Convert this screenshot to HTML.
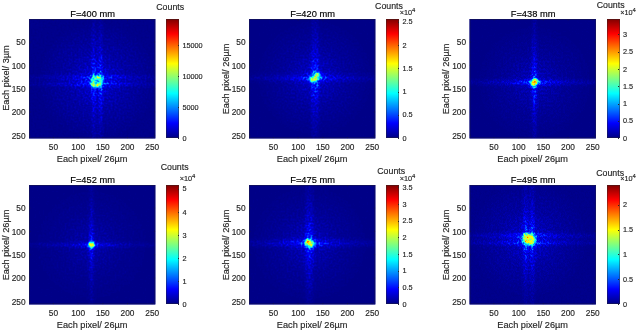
<!DOCTYPE html>
<html><head><meta charset="utf-8"><title>Focal spot images</title>
<style>
html,body{margin:0;padding:0;background:#fff;}
body{width:637px;height:331px;position:relative;overflow:hidden;font-family:"Liberation Sans",sans-serif;color:#262626;}
.t{position:absolute;white-space:nowrap;line-height:1;-webkit-text-stroke:0.15px currentColor;}
.tk{font-size:8.3px;}
.ck{font-size:7.3px;}
.lb{font-size:9.2px;}
.cn{font-size:8.8px;}
.ti{font-size:9.3px;color:#000;}
.hm{position:absolute;display:block;}
.cb{position:absolute;background:linear-gradient(to top,#000084 0%,#0000ff 12.5%,#00ffff 37.5%,#ffff00 62.5%,#ff0000 87.5%,#800000 100%);box-sizing:border-box;border:1px solid rgba(38,38,38,0.42);background-origin:border-box;background-repeat:no-repeat;}
.yl{transform:translate(-50%,-50%) rotate(-90deg) scaleY(1.07);}
.cx{transform:translateX(-50%);}
.sx{transform:translateX(-50%) scaleY(1.07);transform-origin:50% 80%;}
.cy{transform:translateY(-50%);}
.rcy{transform:translate(-100%,-50%);}
.tm{position:absolute;background:#262626;}
sup{font-size:5.9px;line-height:0;vertical-align:baseline;position:relative;top:-3.0px;}
</style></head><body>
<svg class="hm" style="left:29px;top:19px" width="130" height="122" viewBox="0 0 130 122"><defs><filter id="f0" x="-6" y="-6" width="138.4" height="131.4" filterUnits="userSpaceOnUse" color-interpolation-filters="sRGB"><feGaussianBlur in="SourceGraphic" stdDeviation="0.8" result="e"/><feColorMatrix in="e" type="matrix" values="1 0 0 0 0 1 0 0 0 0 1 0 0 0 0 0 0 0 0 1" result="eb"/><feColorMatrix in="e" type="matrix" values="0 1 0 0 0 0 1 0 0 0 0 1 0 0 0 0 0 0 0 1" result="ec"/><feTurbulence type="fractalNoise" baseFrequency="0.5" numOctaves="2" seed="3" result="t"/><feColorMatrix in="t" type="matrix" values="1 0 0 0 0 1 0 0 0 0 1 0 0 0 0 0 0 0 0 1" result="n"/><feComponentTransfer in="n" result="n2"><feFuncR type="table" tableValues="0 0 0.02 0.12 0.33 0.62 0.9 1 1"/><feFuncG type="table" tableValues="0 0 0.02 0.12 0.33 0.62 0.9 1 1"/><feFuncB type="table" tableValues="0 0 0.02 0.12 0.33 0.62 0.9 1 1"/></feComponentTransfer><feComposite in="eb" in2="n2" operator="arithmetic" k1="1.3" k2="0.53" k3="0" k4="0" result="m1"/><feComposite in="ec" in2="n2" operator="arithmetic" k1="0.3" k2="0.9" k3="0" k4="0" result="m2"/><feComposite in="m1" in2="m2" operator="arithmetic" k1="0" k2="1" k3="1" k4="0" result="m"/><feComponentTransfer in="m"><feFuncR type="table" tableValues="0 0 0 0 0.5 1 1 1 0.5"/><feFuncG type="table" tableValues="0 0 0.5 1 1 1 0.5 0 0"/><feFuncB type="table" tableValues="0.515 1 1 1 0.5 0 0 0 0"/></feComponentTransfer></filter><linearGradient id="v0" gradientUnits="userSpaceOnUse" x1="0" x2="0" y1="-23.30" y2="146.70"><stop offset="0.000" stop-color="#f00" stop-opacity="0.0119"/><stop offset="0.225" stop-color="#f00" stop-opacity="0.0306"/><stop offset="0.350" stop-color="#f00" stop-opacity="0.0612"/><stop offset="0.425" stop-color="#f00" stop-opacity="0.1020"/><stop offset="0.470" stop-color="#f00" stop-opacity="0.1615"/><stop offset="0.500" stop-color="#f00" stop-opacity="0.1700"/><stop offset="0.530" stop-color="#f00" stop-opacity="0.1615"/><stop offset="0.575" stop-color="#f00" stop-opacity="0.1020"/><stop offset="0.650" stop-color="#f00" stop-opacity="0.0612"/><stop offset="0.775" stop-color="#f00" stop-opacity="0.0306"/><stop offset="1.000" stop-color="#f00" stop-opacity="0.0119"/></linearGradient><linearGradient id="h0" gradientUnits="userSpaceOnUse" y1="0" y2="0" x1="-16.90" x2="153.10"><stop offset="0.000" stop-color="#f00" stop-opacity="0.0063"/><stop offset="0.225" stop-color="#f00" stop-opacity="0.0162"/><stop offset="0.350" stop-color="#f00" stop-opacity="0.0324"/><stop offset="0.425" stop-color="#f00" stop-opacity="0.0540"/><stop offset="0.470" stop-color="#f00" stop-opacity="0.0855"/><stop offset="0.500" stop-color="#f00" stop-opacity="0.0900"/><stop offset="0.530" stop-color="#f00" stop-opacity="0.0855"/><stop offset="0.575" stop-color="#f00" stop-opacity="0.0540"/><stop offset="0.650" stop-color="#f00" stop-opacity="0.0324"/><stop offset="0.775" stop-color="#f00" stop-opacity="0.0162"/><stop offset="1.000" stop-color="#f00" stop-opacity="0.0063"/></linearGradient><linearGradient id="vw0" gradientUnits="userSpaceOnUse" x1="0" x2="0" y1="-23.30" y2="146.70"><stop offset="0.000" stop-color="#f00" stop-opacity="0.0032"/><stop offset="0.225" stop-color="#f00" stop-opacity="0.0081"/><stop offset="0.350" stop-color="#f00" stop-opacity="0.0162"/><stop offset="0.425" stop-color="#f00" stop-opacity="0.0270"/><stop offset="0.470" stop-color="#f00" stop-opacity="0.0427"/><stop offset="0.500" stop-color="#f00" stop-opacity="0.0450"/><stop offset="0.530" stop-color="#f00" stop-opacity="0.0427"/><stop offset="0.575" stop-color="#f00" stop-opacity="0.0270"/><stop offset="0.650" stop-color="#f00" stop-opacity="0.0162"/><stop offset="0.775" stop-color="#f00" stop-opacity="0.0081"/><stop offset="1.000" stop-color="#f00" stop-opacity="0.0032"/></linearGradient><linearGradient id="hw0" gradientUnits="userSpaceOnUse" y1="0" y2="0" x1="-16.90" x2="153.10"><stop offset="0.000" stop-color="#f00" stop-opacity="0.0042"/><stop offset="0.225" stop-color="#f00" stop-opacity="0.0108"/><stop offset="0.350" stop-color="#f00" stop-opacity="0.0216"/><stop offset="0.425" stop-color="#f00" stop-opacity="0.0360"/><stop offset="0.470" stop-color="#f00" stop-opacity="0.0570"/><stop offset="0.500" stop-color="#f00" stop-opacity="0.0600"/><stop offset="0.530" stop-color="#f00" stop-opacity="0.0570"/><stop offset="0.575" stop-color="#f00" stop-opacity="0.0360"/><stop offset="0.650" stop-color="#f00" stop-opacity="0.0216"/><stop offset="0.775" stop-color="#f00" stop-opacity="0.0108"/><stop offset="1.000" stop-color="#f00" stop-opacity="0.0042"/></linearGradient><radialGradient id="o0" cx="68.10" cy="61.70" r="60" gradientUnits="userSpaceOnUse"><stop offset="0" stop-color="#f00" stop-opacity="0.085"/><stop offset="0.2" stop-color="#f00" stop-opacity="0.059"/><stop offset="0.5" stop-color="#f00" stop-opacity="0.026"/><stop offset="1" stop-color="#f00" stop-opacity="0"/></radialGradient><clipPath id="c0"><rect x="0" y="0" width="126.4" height="119.4"/></clipPath></defs><g transform="translate(0.00 0.00)"><g clip-path="url(#c0)"><rect width="126.4" height="119.4" fill="#00008a"/><g filter="url(#f0)"><rect x="-8" y="-8" width="142.4" height="135.4" fill="rgb(2,0,0)"/><rect x="-8" y="-8" width="142.4" height="135.4" fill="url(#o0)"/><rect x="62.10" y="-8" width="12" height="135.4" fill="url(#vw0)"/><rect y="55.70" x="-8" height="12" width="142.4" fill="url(#hw0)"/><rect x="63.60" y="-8" width="2.0" height="135.4" fill="url(#v0)"/><rect x="70.60" y="-8" width="2.0" height="135.4" fill="url(#v0)"/><rect y="57.40" x="-8" height="2.0" width="142.4" fill="url(#h0)"/><rect y="64.00" x="-8" height="2.0" width="142.4" fill="url(#h0)"/><circle cx="67.70" cy="62.60" r="6.4" fill="#0f0" fill-opacity="0.090"/><circle cx="67.70" cy="62.60" r="4.1" fill="none" stroke="#0f0" stroke-opacity="0.22" stroke-width="2.8"/><path d="M-1.0 -4.3 C1.5 -5.2 4.6 -4.2 5.6 -2.0" transform="translate(67.70 62.60)" fill="none" stroke="#0f0" stroke-opacity="0.220" stroke-width="2.1" stroke-linecap="round"/><path d="M-5.0 2.4 C-3.6 4.6 0.4 5.0 2.6 2.6" transform="translate(67.70 62.60)" fill="none" stroke="#0f0" stroke-opacity="0.250" stroke-width="2.8" stroke-linecap="round"/><path d="M0.6 -4.4 L2.6 -4.0" transform="translate(67.70 62.60)" fill="none" stroke="#0f0" stroke-opacity="0.160" stroke-width="1.5" stroke-linecap="round"/><path d="M-4.2 3.0 L-1.4 4.2" transform="translate(67.70 62.60)" fill="none" stroke="#0f0" stroke-opacity="0.120" stroke-width="1.8" stroke-linecap="round"/><circle cx="69.60" cy="65.50" r="1.1" fill="#0f0" fill-opacity="0.160"/></g><rect x="0.5" y="0.5" width="125.4" height="118.4" fill="none" stroke="#262626" stroke-opacity="0.38" stroke-width="1"/><path d="M24.44 0v1.6M24.44 119.4v-1.6M0 23.09h1.6M126.4 23.09h-1.6M49.13 0v1.6M49.13 119.4v-1.6M0 46.41h1.6M126.4 46.41h-1.6M73.82 0v1.6M73.82 119.4v-1.6M0 69.73h1.6M126.4 69.73h-1.6M98.50 0v1.6M98.50 119.4v-1.6M0 93.05h1.6M126.4 93.05h-1.6M123.19 0v1.6M123.19 119.4v-1.6M0 116.37h1.6M126.4 116.37h-1.6" stroke="#262626" stroke-opacity="0.55" stroke-width="0.6" fill="none"/></g></g></svg>
<div class="t ti sx" style="left:92.6px;top:9.8px">F=400 mm</div>
<div class="t lb sx" style="left:92.2px;top:155.0px">Each pixel/ 26µm</div>
<div class="t lb yl" style="left:5.8px;top:78.0px">Each pixel/ 3µm</div>
<div class="t tk cx" style="left:53.4px;top:143.0px">50</div><div class="t tk rcy" style="left:25.6px;top:42.4px">50</div><div class="t tk cx" style="left:78.1px;top:143.0px">100</div><div class="t tk rcy" style="left:25.6px;top:65.7px">100</div><div class="t tk cx" style="left:102.8px;top:143.0px">150</div><div class="t tk rcy" style="left:25.6px;top:89.0px">150</div><div class="t tk cx" style="left:127.5px;top:143.0px">200</div><div class="t tk rcy" style="left:25.6px;top:112.3px">200</div><div class="t tk cx" style="left:152.2px;top:143.0px">250</div><div class="t tk rcy" style="left:25.6px;top:135.7px">250</div>
<div class="cb" style="left:166.2px;top:19.0px;width:12.9px;height:119.4px"></div>
<div class="tm" style="left:177.5px;top:138.15px;width:1.2px;height:0.6px"></div><div class="t ck cy" style="left:182.4px;top:138.7px">0</div><div class="tm" style="left:177.5px;top:107.08px;width:1.2px;height:0.6px"></div><div class="t ck cy" style="left:182.4px;top:107.6px">5000</div><div class="tm" style="left:177.5px;top:76.01px;width:1.2px;height:0.6px"></div><div class="t ck cy" style="left:182.4px;top:76.6px">10000</div><div class="tm" style="left:177.5px;top:44.94px;width:1.2px;height:0.6px"></div><div class="t ck cy" style="left:182.4px;top:45.5px">15000</div>
<div class="t cn sx" style="left:170.2px;top:2.8px">Counts</div>
<svg class="hm" style="left:249px;top:19px" width="130" height="122" viewBox="0 0 130 122"><defs><filter id="f1" x="-6" y="-6" width="138.4" height="131.4" filterUnits="userSpaceOnUse" color-interpolation-filters="sRGB"><feGaussianBlur in="SourceGraphic" stdDeviation="0.8" result="e"/><feColorMatrix in="e" type="matrix" values="1 0 0 0 0 1 0 0 0 0 1 0 0 0 0 0 0 0 0 1" result="eb"/><feColorMatrix in="e" type="matrix" values="0 1 0 0 0 0 1 0 0 0 0 1 0 0 0 0 0 0 0 1" result="ec"/><feTurbulence type="fractalNoise" baseFrequency="0.5" numOctaves="2" seed="7" result="t"/><feColorMatrix in="t" type="matrix" values="1 0 0 0 0 1 0 0 0 0 1 0 0 0 0 0 0 0 0 1" result="n"/><feComponentTransfer in="n" result="n2"><feFuncR type="table" tableValues="0 0 0.02 0.12 0.33 0.62 0.9 1 1"/><feFuncG type="table" tableValues="0 0 0.02 0.12 0.33 0.62 0.9 1 1"/><feFuncB type="table" tableValues="0 0 0.02 0.12 0.33 0.62 0.9 1 1"/></feComponentTransfer><feComposite in="eb" in2="n2" operator="arithmetic" k1="1.3" k2="0.53" k3="0" k4="0" result="m1"/><feComposite in="ec" in2="n2" operator="arithmetic" k1="0.3" k2="0.9" k3="0" k4="0" result="m2"/><feComposite in="m1" in2="m2" operator="arithmetic" k1="0" k2="1" k3="1" k4="0" result="m"/><feComponentTransfer in="m"><feFuncR type="table" tableValues="0 0 0 0 0.5 1 1 1 0.5"/><feFuncG type="table" tableValues="0 0 0.5 1 1 1 0.5 0 0"/><feFuncB type="table" tableValues="0.515 1 1 1 0.5 0 0 0 0"/></feComponentTransfer></filter><linearGradient id="v1" gradientUnits="userSpaceOnUse" x1="0" x2="0" y1="-26.30" y2="143.70"><stop offset="0.000" stop-color="#f00" stop-opacity="0.0091"/><stop offset="0.225" stop-color="#f00" stop-opacity="0.0234"/><stop offset="0.350" stop-color="#f00" stop-opacity="0.0468"/><stop offset="0.425" stop-color="#f00" stop-opacity="0.0780"/><stop offset="0.470" stop-color="#f00" stop-opacity="0.1235"/><stop offset="0.500" stop-color="#f00" stop-opacity="0.1300"/><stop offset="0.530" stop-color="#f00" stop-opacity="0.1235"/><stop offset="0.575" stop-color="#f00" stop-opacity="0.0780"/><stop offset="0.650" stop-color="#f00" stop-opacity="0.0468"/><stop offset="0.775" stop-color="#f00" stop-opacity="0.0234"/><stop offset="1.000" stop-color="#f00" stop-opacity="0.0091"/></linearGradient><linearGradient id="h1" gradientUnits="userSpaceOnUse" y1="0" y2="0" x1="-19.10" x2="150.90"><stop offset="0.000" stop-color="#f00" stop-opacity="0.0091"/><stop offset="0.225" stop-color="#f00" stop-opacity="0.0234"/><stop offset="0.350" stop-color="#f00" stop-opacity="0.0468"/><stop offset="0.425" stop-color="#f00" stop-opacity="0.0780"/><stop offset="0.470" stop-color="#f00" stop-opacity="0.1235"/><stop offset="0.500" stop-color="#f00" stop-opacity="0.1300"/><stop offset="0.530" stop-color="#f00" stop-opacity="0.1235"/><stop offset="0.575" stop-color="#f00" stop-opacity="0.0780"/><stop offset="0.650" stop-color="#f00" stop-opacity="0.0468"/><stop offset="0.775" stop-color="#f00" stop-opacity="0.0234"/><stop offset="1.000" stop-color="#f00" stop-opacity="0.0091"/></linearGradient><linearGradient id="vw1" gradientUnits="userSpaceOnUse" x1="0" x2="0" y1="-26.30" y2="143.70"><stop offset="0.000" stop-color="#f00" stop-opacity="0.0028"/><stop offset="0.225" stop-color="#f00" stop-opacity="0.0072"/><stop offset="0.350" stop-color="#f00" stop-opacity="0.0144"/><stop offset="0.425" stop-color="#f00" stop-opacity="0.0240"/><stop offset="0.470" stop-color="#f00" stop-opacity="0.0380"/><stop offset="0.500" stop-color="#f00" stop-opacity="0.0400"/><stop offset="0.530" stop-color="#f00" stop-opacity="0.0380"/><stop offset="0.575" stop-color="#f00" stop-opacity="0.0240"/><stop offset="0.650" stop-color="#f00" stop-opacity="0.0144"/><stop offset="0.775" stop-color="#f00" stop-opacity="0.0072"/><stop offset="1.000" stop-color="#f00" stop-opacity="0.0028"/></linearGradient><linearGradient id="hw1" gradientUnits="userSpaceOnUse" y1="0" y2="0" x1="-19.10" x2="150.90"><stop offset="0.000" stop-color="#f00" stop-opacity="0.0032"/><stop offset="0.225" stop-color="#f00" stop-opacity="0.0081"/><stop offset="0.350" stop-color="#f00" stop-opacity="0.0162"/><stop offset="0.425" stop-color="#f00" stop-opacity="0.0270"/><stop offset="0.470" stop-color="#f00" stop-opacity="0.0427"/><stop offset="0.500" stop-color="#f00" stop-opacity="0.0450"/><stop offset="0.530" stop-color="#f00" stop-opacity="0.0427"/><stop offset="0.575" stop-color="#f00" stop-opacity="0.0270"/><stop offset="0.650" stop-color="#f00" stop-opacity="0.0162"/><stop offset="0.775" stop-color="#f00" stop-opacity="0.0081"/><stop offset="1.000" stop-color="#f00" stop-opacity="0.0032"/></linearGradient><radialGradient id="o1" cx="65.90" cy="58.70" r="60" gradientUnits="userSpaceOnUse"><stop offset="0" stop-color="#f00" stop-opacity="0.070"/><stop offset="0.2" stop-color="#f00" stop-opacity="0.049"/><stop offset="0.5" stop-color="#f00" stop-opacity="0.021"/><stop offset="1" stop-color="#f00" stop-opacity="0"/></radialGradient><clipPath id="c1"><rect x="0" y="0" width="126.4" height="119.4"/></clipPath></defs><g transform="translate(0.00 0.00)"><g clip-path="url(#c1)"><rect width="126.4" height="119.4" fill="#00008a"/><g filter="url(#f1)"><rect x="-8" y="-8" width="142.4" height="135.4" fill="rgb(1,0,0)"/><rect x="-8" y="-8" width="142.4" height="135.4" fill="url(#o1)"/><rect x="60.90" y="-8" width="10" height="135.4" fill="url(#vw1)"/><rect y="53.70" x="-8" height="10" width="142.4" fill="url(#hw1)"/><rect x="63.10" y="-8" width="2.4" height="135.4" fill="url(#v1)"/><rect x="66.50" y="-8" width="2.4" height="135.4" fill="url(#v1)"/><rect y="58.00" x="-8" height="2.4" width="142.4" fill="url(#h1)"/><ellipse cx="0" cy="0" rx="5.8" ry="3.9" transform="translate(65.90 58.70) rotate(-35)" fill="#0f0" fill-opacity="0.190"/><path d="M-4.6 2.0 C-2.6 3.4 -0.2 3.0 1.0 1.0 C1.8 -0.6 1.8 -2.6 2.8 -3.8" transform="translate(65.90 58.70)" fill="none" stroke="#0f0" stroke-opacity="0.340" stroke-width="2.6" stroke-linecap="round"/><path d="M2.8 -3.8 C4.6 -4.0 5.8 -2.6 6.2 -1.0" transform="translate(65.90 58.70)" fill="none" stroke="#0f0" stroke-opacity="0.170" stroke-width="2.0" stroke-linecap="round"/><path d="M-1.6 2.6 L1.2 0.6 L2.2 -2.6" transform="translate(65.90 58.70)" fill="none" stroke="#0f0" stroke-opacity="0.160" stroke-width="1.5" stroke-linecap="round"/></g><rect x="0.5" y="0.5" width="125.4" height="118.4" fill="none" stroke="#262626" stroke-opacity="0.38" stroke-width="1"/><path d="M24.44 0v1.6M24.44 119.4v-1.6M0 23.09h1.6M126.4 23.09h-1.6M49.13 0v1.6M49.13 119.4v-1.6M0 46.41h1.6M126.4 46.41h-1.6M73.82 0v1.6M73.82 119.4v-1.6M0 69.73h1.6M126.4 69.73h-1.6M98.50 0v1.6M98.50 119.4v-1.6M0 93.05h1.6M126.4 93.05h-1.6M123.19 0v1.6M123.19 119.4v-1.6M0 116.37h1.6M126.4 116.37h-1.6" stroke="#262626" stroke-opacity="0.55" stroke-width="0.6" fill="none"/></g></g></svg>
<div class="t ti sx" style="left:312.6px;top:9.8px">F=420 mm</div>
<div class="t lb sx" style="left:312.2px;top:155.0px">Each pixel/ 26µm</div>
<div class="t lb yl" style="left:225.8px;top:78.9px">Each pixel/ 26µm</div>
<div class="t tk cx" style="left:273.4px;top:143.0px">50</div><div class="t tk rcy" style="left:245.6px;top:42.4px">50</div><div class="t tk cx" style="left:298.1px;top:143.0px">100</div><div class="t tk rcy" style="left:245.6px;top:65.7px">100</div><div class="t tk cx" style="left:322.8px;top:143.0px">150</div><div class="t tk rcy" style="left:245.6px;top:89.0px">150</div><div class="t tk cx" style="left:347.5px;top:143.0px">200</div><div class="t tk rcy" style="left:245.6px;top:112.3px">200</div><div class="t tk cx" style="left:372.2px;top:143.0px">250</div><div class="t tk rcy" style="left:245.6px;top:135.7px">250</div>
<div class="cb" style="left:386.2px;top:19.0px;width:12.9px;height:119.4px"></div>
<div class="tm" style="left:397.5px;top:138.15px;width:1.2px;height:0.6px"></div><div class="t ck cy" style="left:402.4px;top:138.7px">0</div><div class="tm" style="left:397.5px;top:114.85px;width:1.2px;height:0.6px"></div><div class="t ck cy" style="left:402.4px;top:115.4px">0.5</div><div class="tm" style="left:397.5px;top:91.55px;width:1.2px;height:0.6px"></div><div class="t ck cy" style="left:402.4px;top:92.1px">1</div><div class="tm" style="left:397.5px;top:68.24px;width:1.2px;height:0.6px"></div><div class="t ck cy" style="left:402.4px;top:68.8px">1.5</div><div class="tm" style="left:397.5px;top:44.94px;width:1.2px;height:0.6px"></div><div class="t ck cy" style="left:402.4px;top:45.5px">2</div><div class="tm" style="left:397.5px;top:21.64px;width:1.2px;height:0.6px"></div><div class="t ck cy" style="left:402.4px;top:22.2px">2.5</div>
<div class="t cn sx" style="left:389.0px;top:1.6px">Counts</div>
<div class="t ck" style="left:399.7px;top:8.7px;color:#262626">×10<sup>4</sup></div>
<svg class="hm" style="left:469px;top:19px" width="130" height="122" viewBox="0 0 130 122"><defs><filter id="f2" x="-6" y="-6" width="138.4" height="131.4" filterUnits="userSpaceOnUse" color-interpolation-filters="sRGB"><feGaussianBlur in="SourceGraphic" stdDeviation="0.8" result="e"/><feColorMatrix in="e" type="matrix" values="1 0 0 0 0 1 0 0 0 0 1 0 0 0 0 0 0 0 0 1" result="eb"/><feColorMatrix in="e" type="matrix" values="0 1 0 0 0 0 1 0 0 0 0 1 0 0 0 0 0 0 0 1" result="ec"/><feTurbulence type="fractalNoise" baseFrequency="0.5" numOctaves="2" seed="11" result="t"/><feColorMatrix in="t" type="matrix" values="1 0 0 0 0 1 0 0 0 0 1 0 0 0 0 0 0 0 0 1" result="n"/><feComponentTransfer in="n" result="n2"><feFuncR type="table" tableValues="0 0 0.02 0.12 0.33 0.62 0.9 1 1"/><feFuncG type="table" tableValues="0 0 0.02 0.12 0.33 0.62 0.9 1 1"/><feFuncB type="table" tableValues="0 0 0.02 0.12 0.33 0.62 0.9 1 1"/></feComponentTransfer><feComposite in="eb" in2="n2" operator="arithmetic" k1="1.3" k2="0.53" k3="0" k4="0" result="m1"/><feComposite in="ec" in2="n2" operator="arithmetic" k1="0.3" k2="0.9" k3="0" k4="0" result="m2"/><feComposite in="m1" in2="m2" operator="arithmetic" k1="0" k2="1" k3="1" k4="0" result="m"/><feComponentTransfer in="m"><feFuncR type="table" tableValues="0 0 0 0 0.5 1 1 1 0.5"/><feFuncG type="table" tableValues="0 0 0.5 1 1 1 0.5 0 0"/><feFuncB type="table" tableValues="0.515 1 1 1 0.5 0 0 0 0"/></feComponentTransfer></filter><linearGradient id="v2" gradientUnits="userSpaceOnUse" x1="0" x2="0" y1="-21.60" y2="148.40"><stop offset="0.000" stop-color="#f00" stop-opacity="0.0105"/><stop offset="0.225" stop-color="#f00" stop-opacity="0.0270"/><stop offset="0.350" stop-color="#f00" stop-opacity="0.0540"/><stop offset="0.425" stop-color="#f00" stop-opacity="0.0900"/><stop offset="0.470" stop-color="#f00" stop-opacity="0.1425"/><stop offset="0.500" stop-color="#f00" stop-opacity="0.1500"/><stop offset="0.530" stop-color="#f00" stop-opacity="0.1425"/><stop offset="0.575" stop-color="#f00" stop-opacity="0.0900"/><stop offset="0.650" stop-color="#f00" stop-opacity="0.0540"/><stop offset="0.775" stop-color="#f00" stop-opacity="0.0270"/><stop offset="1.000" stop-color="#f00" stop-opacity="0.0105"/></linearGradient><linearGradient id="h2" gradientUnits="userSpaceOnUse" y1="0" y2="0" x1="-20.10" x2="149.90"><stop offset="0.000" stop-color="#f00" stop-opacity="0.0091"/><stop offset="0.225" stop-color="#f00" stop-opacity="0.0234"/><stop offset="0.350" stop-color="#f00" stop-opacity="0.0468"/><stop offset="0.425" stop-color="#f00" stop-opacity="0.0780"/><stop offset="0.470" stop-color="#f00" stop-opacity="0.1235"/><stop offset="0.500" stop-color="#f00" stop-opacity="0.1300"/><stop offset="0.530" stop-color="#f00" stop-opacity="0.1235"/><stop offset="0.575" stop-color="#f00" stop-opacity="0.0780"/><stop offset="0.650" stop-color="#f00" stop-opacity="0.0468"/><stop offset="0.775" stop-color="#f00" stop-opacity="0.0234"/><stop offset="1.000" stop-color="#f00" stop-opacity="0.0091"/></linearGradient><linearGradient id="vw2" gradientUnits="userSpaceOnUse" x1="0" x2="0" y1="-21.60" y2="148.40"><stop offset="0.000" stop-color="#f00" stop-opacity="0.0021"/><stop offset="0.225" stop-color="#f00" stop-opacity="0.0054"/><stop offset="0.350" stop-color="#f00" stop-opacity="0.0108"/><stop offset="0.425" stop-color="#f00" stop-opacity="0.0180"/><stop offset="0.470" stop-color="#f00" stop-opacity="0.0285"/><stop offset="0.500" stop-color="#f00" stop-opacity="0.0300"/><stop offset="0.530" stop-color="#f00" stop-opacity="0.0285"/><stop offset="0.575" stop-color="#f00" stop-opacity="0.0180"/><stop offset="0.650" stop-color="#f00" stop-opacity="0.0108"/><stop offset="0.775" stop-color="#f00" stop-opacity="0.0054"/><stop offset="1.000" stop-color="#f00" stop-opacity="0.0021"/></linearGradient><linearGradient id="hw2" gradientUnits="userSpaceOnUse" y1="0" y2="0" x1="-20.10" x2="149.90"><stop offset="0.000" stop-color="#f00" stop-opacity="0.0025"/><stop offset="0.225" stop-color="#f00" stop-opacity="0.0063"/><stop offset="0.350" stop-color="#f00" stop-opacity="0.0126"/><stop offset="0.425" stop-color="#f00" stop-opacity="0.0210"/><stop offset="0.470" stop-color="#f00" stop-opacity="0.0333"/><stop offset="0.500" stop-color="#f00" stop-opacity="0.0350"/><stop offset="0.530" stop-color="#f00" stop-opacity="0.0333"/><stop offset="0.575" stop-color="#f00" stop-opacity="0.0210"/><stop offset="0.650" stop-color="#f00" stop-opacity="0.0126"/><stop offset="0.775" stop-color="#f00" stop-opacity="0.0063"/><stop offset="1.000" stop-color="#f00" stop-opacity="0.0025"/></linearGradient><radialGradient id="o2" cx="64.90" cy="63.40" r="60" gradientUnits="userSpaceOnUse"><stop offset="0" stop-color="#f00" stop-opacity="0.055"/><stop offset="0.2" stop-color="#f00" stop-opacity="0.038"/><stop offset="0.5" stop-color="#f00" stop-opacity="0.017"/><stop offset="1" stop-color="#f00" stop-opacity="0"/></radialGradient><clipPath id="c2"><rect x="0" y="0" width="126.4" height="119.4"/></clipPath></defs><g transform="translate(0.50 0.00)"><g clip-path="url(#c2)"><rect width="126.4" height="119.4" fill="#00008a"/><g filter="url(#f2)"><rect x="-8" y="-8" width="142.4" height="135.4" fill="rgb(1,0,0)"/><rect x="-8" y="-8" width="142.4" height="135.4" fill="url(#o2)"/><rect x="60.90" y="-8" width="8" height="135.4" fill="url(#vw2)"/><rect y="59.40" x="-8" height="8" width="142.4" fill="url(#hw2)"/><rect x="63.20" y="-8" width="3.4" height="135.4" fill="url(#v2)"/><rect y="61.70" x="-8" height="3.4" width="142.4" fill="url(#h2)"/><ellipse cx="0" cy="0" rx="4.4" ry="3.6" transform="translate(64.90 63.40) rotate(-40)" fill="#0f0" fill-opacity="0.300"/><ellipse cx="0" cy="0" rx="3.2" ry="2.2" transform="translate(64.90 63.40) rotate(-40)" fill="#0f0" fill-opacity="0.300"/><circle cx="63.40" cy="64.60" r="1.5" fill="#0f0" fill-opacity="0.550"/><circle cx="66.50" cy="61.80" r="1.3" fill="#0f0" fill-opacity="0.500"/></g><rect x="0.5" y="0.5" width="125.4" height="118.4" fill="none" stroke="#262626" stroke-opacity="0.38" stroke-width="1"/><path d="M24.44 0v1.6M24.44 119.4v-1.6M0 23.09h1.6M126.4 23.09h-1.6M49.13 0v1.6M49.13 119.4v-1.6M0 46.41h1.6M126.4 46.41h-1.6M73.82 0v1.6M73.82 119.4v-1.6M0 69.73h1.6M126.4 69.73h-1.6M98.50 0v1.6M98.50 119.4v-1.6M0 93.05h1.6M126.4 93.05h-1.6M123.19 0v1.6M123.19 119.4v-1.6M0 116.37h1.6M126.4 116.37h-1.6" stroke="#262626" stroke-opacity="0.55" stroke-width="0.6" fill="none"/></g></g></svg>
<div class="t ti sx" style="left:533.1px;top:9.8px">F=438 mm</div>
<div class="t lb sx" style="left:532.7px;top:155.0px">Each pixel/ 26µm</div>
<div class="t lb yl" style="left:446.3px;top:78.9px">Each pixel/ 26µm</div>
<div class="t tk cx" style="left:493.9px;top:143.0px">50</div><div class="t tk rcy" style="left:466.1px;top:42.4px">50</div><div class="t tk cx" style="left:518.6px;top:143.0px">100</div><div class="t tk rcy" style="left:466.1px;top:65.7px">100</div><div class="t tk cx" style="left:543.3px;top:143.0px">150</div><div class="t tk rcy" style="left:466.1px;top:89.0px">150</div><div class="t tk cx" style="left:568.0px;top:143.0px">200</div><div class="t tk rcy" style="left:466.1px;top:112.3px">200</div><div class="t tk cx" style="left:592.7px;top:143.0px">250</div><div class="t tk rcy" style="left:466.1px;top:135.7px">250</div>
<div class="cb" style="left:606.7px;top:19.0px;width:12.9px;height:119.4px"></div>
<div class="tm" style="left:618.0px;top:138.15px;width:1.2px;height:0.6px"></div><div class="t ck cy" style="left:622.9px;top:138.7px">0</div><div class="tm" style="left:618.0px;top:120.85px;width:1.2px;height:0.6px"></div><div class="t ck cy" style="left:622.9px;top:121.4px">0.5</div><div class="tm" style="left:618.0px;top:103.54px;width:1.2px;height:0.6px"></div><div class="t ck cy" style="left:622.9px;top:104.1px">1</div><div class="tm" style="left:618.0px;top:86.24px;width:1.2px;height:0.6px"></div><div class="t ck cy" style="left:622.9px;top:86.8px">1.5</div><div class="tm" style="left:618.0px;top:68.93px;width:1.2px;height:0.6px"></div><div class="t ck cy" style="left:622.9px;top:69.5px">2</div><div class="tm" style="left:618.0px;top:51.63px;width:1.2px;height:0.6px"></div><div class="t ck cy" style="left:622.9px;top:52.2px">2.5</div><div class="tm" style="left:618.0px;top:34.32px;width:1.2px;height:0.6px"></div><div class="t ck cy" style="left:622.9px;top:34.9px">3</div>
<div class="t cn sx" style="left:610.6px;top:0.6px">Counts</div>
<div class="t ck" style="left:620.2px;top:8.7px;color:#262626">×10<sup>4</sup></div>
<svg class="hm" style="left:29px;top:185px" width="130" height="122" viewBox="0 0 130 122"><defs><filter id="f3" x="-6" y="-6" width="138.4" height="131.4" filterUnits="userSpaceOnUse" color-interpolation-filters="sRGB"><feGaussianBlur in="SourceGraphic" stdDeviation="0.8" result="e"/><feColorMatrix in="e" type="matrix" values="1 0 0 0 0 1 0 0 0 0 1 0 0 0 0 0 0 0 0 1" result="eb"/><feColorMatrix in="e" type="matrix" values="0 1 0 0 0 0 1 0 0 0 0 1 0 0 0 0 0 0 0 1" result="ec"/><feTurbulence type="fractalNoise" baseFrequency="0.5" numOctaves="2" seed="13" result="t"/><feColorMatrix in="t" type="matrix" values="1 0 0 0 0 1 0 0 0 0 1 0 0 0 0 0 0 0 0 1" result="n"/><feComponentTransfer in="n" result="n2"><feFuncR type="table" tableValues="0 0 0.02 0.12 0.33 0.62 0.9 1 1"/><feFuncG type="table" tableValues="0 0 0.02 0.12 0.33 0.62 0.9 1 1"/><feFuncB type="table" tableValues="0 0 0.02 0.12 0.33 0.62 0.9 1 1"/></feComponentTransfer><feComposite in="eb" in2="n2" operator="arithmetic" k1="1.3" k2="0.53" k3="0" k4="0" result="m1"/><feComposite in="ec" in2="n2" operator="arithmetic" k1="0.3" k2="0.9" k3="0" k4="0" result="m2"/><feComposite in="m1" in2="m2" operator="arithmetic" k1="0" k2="1" k3="1" k4="0" result="m"/><feComponentTransfer in="m"><feFuncR type="table" tableValues="0 0 0 0 0.5 1 1 1 0.5"/><feFuncG type="table" tableValues="0 0 0.5 1 1 1 0.5 0 0"/><feFuncB type="table" tableValues="0.515 1 1 1 0.5 0 0 0 0"/></feComponentTransfer></filter><linearGradient id="v3" gradientUnits="userSpaceOnUse" x1="0" x2="0" y1="-25.20" y2="144.80"><stop offset="0.000" stop-color="#f00" stop-opacity="0.0105"/><stop offset="0.225" stop-color="#f00" stop-opacity="0.0270"/><stop offset="0.350" stop-color="#f00" stop-opacity="0.0540"/><stop offset="0.425" stop-color="#f00" stop-opacity="0.0900"/><stop offset="0.470" stop-color="#f00" stop-opacity="0.1425"/><stop offset="0.500" stop-color="#f00" stop-opacity="0.1500"/><stop offset="0.530" stop-color="#f00" stop-opacity="0.1425"/><stop offset="0.575" stop-color="#f00" stop-opacity="0.0900"/><stop offset="0.650" stop-color="#f00" stop-opacity="0.0540"/><stop offset="0.775" stop-color="#f00" stop-opacity="0.0270"/><stop offset="1.000" stop-color="#f00" stop-opacity="0.0105"/></linearGradient><linearGradient id="h3" gradientUnits="userSpaceOnUse" y1="0" y2="0" x1="-22.50" x2="147.50"><stop offset="0.000" stop-color="#f00" stop-opacity="0.0084"/><stop offset="0.225" stop-color="#f00" stop-opacity="0.0216"/><stop offset="0.350" stop-color="#f00" stop-opacity="0.0432"/><stop offset="0.425" stop-color="#f00" stop-opacity="0.0720"/><stop offset="0.470" stop-color="#f00" stop-opacity="0.1140"/><stop offset="0.500" stop-color="#f00" stop-opacity="0.1200"/><stop offset="0.530" stop-color="#f00" stop-opacity="0.1140"/><stop offset="0.575" stop-color="#f00" stop-opacity="0.0720"/><stop offset="0.650" stop-color="#f00" stop-opacity="0.0432"/><stop offset="0.775" stop-color="#f00" stop-opacity="0.0216"/><stop offset="1.000" stop-color="#f00" stop-opacity="0.0084"/></linearGradient><linearGradient id="vw3" gradientUnits="userSpaceOnUse" x1="0" x2="0" y1="-25.20" y2="144.80"><stop offset="0.000" stop-color="#f00" stop-opacity="0.0018"/><stop offset="0.225" stop-color="#f00" stop-opacity="0.0045"/><stop offset="0.350" stop-color="#f00" stop-opacity="0.0090"/><stop offset="0.425" stop-color="#f00" stop-opacity="0.0150"/><stop offset="0.470" stop-color="#f00" stop-opacity="0.0238"/><stop offset="0.500" stop-color="#f00" stop-opacity="0.0250"/><stop offset="0.530" stop-color="#f00" stop-opacity="0.0238"/><stop offset="0.575" stop-color="#f00" stop-opacity="0.0150"/><stop offset="0.650" stop-color="#f00" stop-opacity="0.0090"/><stop offset="0.775" stop-color="#f00" stop-opacity="0.0045"/><stop offset="1.000" stop-color="#f00" stop-opacity="0.0018"/></linearGradient><linearGradient id="hw3" gradientUnits="userSpaceOnUse" y1="0" y2="0" x1="-22.50" x2="147.50"><stop offset="0.000" stop-color="#f00" stop-opacity="0.0018"/><stop offset="0.225" stop-color="#f00" stop-opacity="0.0045"/><stop offset="0.350" stop-color="#f00" stop-opacity="0.0090"/><stop offset="0.425" stop-color="#f00" stop-opacity="0.0150"/><stop offset="0.470" stop-color="#f00" stop-opacity="0.0238"/><stop offset="0.500" stop-color="#f00" stop-opacity="0.0250"/><stop offset="0.530" stop-color="#f00" stop-opacity="0.0238"/><stop offset="0.575" stop-color="#f00" stop-opacity="0.0150"/><stop offset="0.650" stop-color="#f00" stop-opacity="0.0090"/><stop offset="0.775" stop-color="#f00" stop-opacity="0.0045"/><stop offset="1.000" stop-color="#f00" stop-opacity="0.0018"/></linearGradient><radialGradient id="o3" cx="62.50" cy="59.80" r="60" gradientUnits="userSpaceOnUse"><stop offset="0" stop-color="#f00" stop-opacity="0.040"/><stop offset="0.2" stop-color="#f00" stop-opacity="0.028"/><stop offset="0.5" stop-color="#f00" stop-opacity="0.012"/><stop offset="1" stop-color="#f00" stop-opacity="0"/></radialGradient><clipPath id="c3"><rect x="0" y="0" width="126.4" height="119.4"/></clipPath></defs><g transform="translate(0.00 0.00)"><g clip-path="url(#c3)"><rect width="126.4" height="119.4" fill="#00008a"/><g filter="url(#f3)"><rect x="-8" y="-8" width="142.4" height="135.4" fill="rgb(1,0,0)"/><rect x="-8" y="-8" width="142.4" height="135.4" fill="url(#o3)"/><rect x="59.00" y="-8" width="7" height="135.4" fill="url(#vw3)"/><rect y="56.30" x="-8" height="7" width="142.4" fill="url(#hw3)"/><rect x="61.50" y="-8" width="2.0" height="135.4" fill="url(#v3)"/><rect y="58.80" x="-8" height="2.0" width="142.4" fill="url(#h3)"/><circle cx="62.50" cy="59.80" r="3.6" fill="#0f0" fill-opacity="0.250"/><circle cx="62.50" cy="59.80" r="2.4" fill="#0f0" fill-opacity="0.350"/><circle cx="62.30" cy="59.90" r="1.4" fill="#0f0" fill-opacity="0.550"/></g><rect x="0.5" y="0.5" width="125.4" height="118.4" fill="none" stroke="#262626" stroke-opacity="0.38" stroke-width="1"/><path d="M24.44 0v1.6M24.44 119.4v-1.6M0 23.09h1.6M126.4 23.09h-1.6M49.13 0v1.6M49.13 119.4v-1.6M0 46.41h1.6M126.4 46.41h-1.6M73.82 0v1.6M73.82 119.4v-1.6M0 69.73h1.6M126.4 69.73h-1.6M98.50 0v1.6M98.50 119.4v-1.6M0 93.05h1.6M126.4 93.05h-1.6M123.19 0v1.6M123.19 119.4v-1.6M0 116.37h1.6M126.4 116.37h-1.6" stroke="#262626" stroke-opacity="0.55" stroke-width="0.6" fill="none"/></g></g></svg>
<div class="t ti sx" style="left:92.6px;top:175.8px">F=452 mm</div>
<div class="t lb sx" style="left:92.2px;top:321.0px">Each pixel/ 26µm</div>
<div class="t lb yl" style="left:5.8px;top:244.9px">Each pixel/ 26µm</div>
<div class="t tk cx" style="left:53.4px;top:309.0px">50</div><div class="t tk rcy" style="left:25.6px;top:208.4px">50</div><div class="t tk cx" style="left:78.1px;top:309.0px">100</div><div class="t tk rcy" style="left:25.6px;top:231.7px">100</div><div class="t tk cx" style="left:102.8px;top:309.0px">150</div><div class="t tk rcy" style="left:25.6px;top:255.0px">150</div><div class="t tk cx" style="left:127.5px;top:309.0px">200</div><div class="t tk rcy" style="left:25.6px;top:278.3px">200</div><div class="t tk cx" style="left:152.2px;top:309.0px">250</div><div class="t tk rcy" style="left:25.6px;top:301.7px">250</div>
<div class="cb" style="left:166.2px;top:185.0px;width:12.9px;height:119.4px"></div>
<div class="tm" style="left:177.5px;top:304.15px;width:1.2px;height:0.6px"></div><div class="t ck cy" style="left:182.4px;top:304.7px">0</div><div class="tm" style="left:177.5px;top:281.10px;width:1.2px;height:0.6px"></div><div class="t ck cy" style="left:182.4px;top:281.6px">1</div><div class="tm" style="left:177.5px;top:258.05px;width:1.2px;height:0.6px"></div><div class="t ck cy" style="left:182.4px;top:258.6px">2</div><div class="tm" style="left:177.5px;top:235.00px;width:1.2px;height:0.6px"></div><div class="t ck cy" style="left:182.4px;top:235.5px">3</div><div class="tm" style="left:177.5px;top:211.95px;width:1.2px;height:0.6px"></div><div class="t ck cy" style="left:182.4px;top:212.5px">4</div><div class="tm" style="left:177.5px;top:188.90px;width:1.2px;height:0.6px"></div><div class="t ck cy" style="left:182.4px;top:189.4px">5</div>
<div class="t cn sx" style="left:174.6px;top:162.6px">Counts</div>
<div class="t ck" style="left:179.7px;top:174.7px;color:#262626">×10<sup>4</sup></div>
<svg class="hm" style="left:249px;top:185px" width="130" height="122" viewBox="0 0 130 122"><defs><filter id="f4" x="-6" y="-6" width="138.4" height="131.4" filterUnits="userSpaceOnUse" color-interpolation-filters="sRGB"><feGaussianBlur in="SourceGraphic" stdDeviation="0.8" result="e"/><feColorMatrix in="e" type="matrix" values="1 0 0 0 0 1 0 0 0 0 1 0 0 0 0 0 0 0 0 1" result="eb"/><feColorMatrix in="e" type="matrix" values="0 1 0 0 0 0 1 0 0 0 0 1 0 0 0 0 0 0 0 1" result="ec"/><feTurbulence type="fractalNoise" baseFrequency="0.5" numOctaves="2" seed="17" result="t"/><feColorMatrix in="t" type="matrix" values="1 0 0 0 0 1 0 0 0 0 1 0 0 0 0 0 0 0 0 1" result="n"/><feComponentTransfer in="n" result="n2"><feFuncR type="table" tableValues="0 0 0.02 0.12 0.33 0.62 0.9 1 1"/><feFuncG type="table" tableValues="0 0 0.02 0.12 0.33 0.62 0.9 1 1"/><feFuncB type="table" tableValues="0 0 0.02 0.12 0.33 0.62 0.9 1 1"/></feComponentTransfer><feComposite in="eb" in2="n2" operator="arithmetic" k1="1.3" k2="0.53" k3="0" k4="0" result="m1"/><feComposite in="ec" in2="n2" operator="arithmetic" k1="0.3" k2="0.9" k3="0" k4="0" result="m2"/><feComposite in="m1" in2="m2" operator="arithmetic" k1="0" k2="1" k3="1" k4="0" result="m"/><feComponentTransfer in="m"><feFuncR type="table" tableValues="0 0 0 0 0.5 1 1 1 0.5"/><feFuncG type="table" tableValues="0 0 0.5 1 1 1 0.5 0 0"/><feFuncB type="table" tableValues="0.515 1 1 1 0.5 0 0 0 0"/></feComponentTransfer></filter><linearGradient id="v4" gradientUnits="userSpaceOnUse" x1="0" x2="0" y1="-26.80" y2="143.20"><stop offset="0.000" stop-color="#f00" stop-opacity="0.0077"/><stop offset="0.225" stop-color="#f00" stop-opacity="0.0198"/><stop offset="0.350" stop-color="#f00" stop-opacity="0.0396"/><stop offset="0.425" stop-color="#f00" stop-opacity="0.0660"/><stop offset="0.470" stop-color="#f00" stop-opacity="0.1045"/><stop offset="0.500" stop-color="#f00" stop-opacity="0.1100"/><stop offset="0.530" stop-color="#f00" stop-opacity="0.1045"/><stop offset="0.575" stop-color="#f00" stop-opacity="0.0660"/><stop offset="0.650" stop-color="#f00" stop-opacity="0.0396"/><stop offset="0.775" stop-color="#f00" stop-opacity="0.0198"/><stop offset="1.000" stop-color="#f00" stop-opacity="0.0077"/></linearGradient><linearGradient id="h4" gradientUnits="userSpaceOnUse" y1="0" y2="0" x1="-24.60" x2="145.40"><stop offset="0.000" stop-color="#f00" stop-opacity="0.0070"/><stop offset="0.225" stop-color="#f00" stop-opacity="0.0180"/><stop offset="0.350" stop-color="#f00" stop-opacity="0.0360"/><stop offset="0.425" stop-color="#f00" stop-opacity="0.0600"/><stop offset="0.470" stop-color="#f00" stop-opacity="0.0950"/><stop offset="0.500" stop-color="#f00" stop-opacity="0.1000"/><stop offset="0.530" stop-color="#f00" stop-opacity="0.0950"/><stop offset="0.575" stop-color="#f00" stop-opacity="0.0600"/><stop offset="0.650" stop-color="#f00" stop-opacity="0.0360"/><stop offset="0.775" stop-color="#f00" stop-opacity="0.0180"/><stop offset="1.000" stop-color="#f00" stop-opacity="0.0070"/></linearGradient><linearGradient id="vw4" gradientUnits="userSpaceOnUse" x1="0" x2="0" y1="-26.80" y2="143.20"><stop offset="0.000" stop-color="#f00" stop-opacity="0.0028"/><stop offset="0.225" stop-color="#f00" stop-opacity="0.0072"/><stop offset="0.350" stop-color="#f00" stop-opacity="0.0144"/><stop offset="0.425" stop-color="#f00" stop-opacity="0.0240"/><stop offset="0.470" stop-color="#f00" stop-opacity="0.0380"/><stop offset="0.500" stop-color="#f00" stop-opacity="0.0400"/><stop offset="0.530" stop-color="#f00" stop-opacity="0.0380"/><stop offset="0.575" stop-color="#f00" stop-opacity="0.0240"/><stop offset="0.650" stop-color="#f00" stop-opacity="0.0144"/><stop offset="0.775" stop-color="#f00" stop-opacity="0.0072"/><stop offset="1.000" stop-color="#f00" stop-opacity="0.0028"/></linearGradient><linearGradient id="hw4" gradientUnits="userSpaceOnUse" y1="0" y2="0" x1="-24.60" x2="145.40"><stop offset="0.000" stop-color="#f00" stop-opacity="0.0032"/><stop offset="0.225" stop-color="#f00" stop-opacity="0.0081"/><stop offset="0.350" stop-color="#f00" stop-opacity="0.0162"/><stop offset="0.425" stop-color="#f00" stop-opacity="0.0270"/><stop offset="0.470" stop-color="#f00" stop-opacity="0.0427"/><stop offset="0.500" stop-color="#f00" stop-opacity="0.0450"/><stop offset="0.530" stop-color="#f00" stop-opacity="0.0427"/><stop offset="0.575" stop-color="#f00" stop-opacity="0.0270"/><stop offset="0.650" stop-color="#f00" stop-opacity="0.0162"/><stop offset="0.775" stop-color="#f00" stop-opacity="0.0081"/><stop offset="1.000" stop-color="#f00" stop-opacity="0.0032"/></linearGradient><radialGradient id="o4" cx="60.40" cy="58.20" r="60" gradientUnits="userSpaceOnUse"><stop offset="0" stop-color="#f00" stop-opacity="0.060"/><stop offset="0.2" stop-color="#f00" stop-opacity="0.042"/><stop offset="0.5" stop-color="#f00" stop-opacity="0.018"/><stop offset="1" stop-color="#f00" stop-opacity="0"/></radialGradient><clipPath id="c4"><rect x="0" y="0" width="126.4" height="119.4"/></clipPath></defs><g transform="translate(0.00 0.00)"><g clip-path="url(#c4)"><rect width="126.4" height="119.4" fill="#00008a"/><g filter="url(#f4)"><rect x="-8" y="-8" width="142.4" height="135.4" fill="rgb(1,0,0)"/><rect x="-8" y="-8" width="142.4" height="135.4" fill="url(#o4)"/><rect x="55.40" y="-8" width="10" height="135.4" fill="url(#vw4)"/><rect y="53.20" x="-8" height="10" width="142.4" fill="url(#hw4)"/><rect x="57.70" y="-8" width="2.4" height="135.4" fill="url(#v4)"/><rect x="60.70" y="-8" width="2.4" height="135.4" fill="url(#v4)"/><rect y="55.80" x="-8" height="2.4" width="142.4" fill="url(#h4)"/><rect y="58.20" x="-8" height="2.4" width="142.4" fill="url(#h4)"/><ellipse cx="0" cy="0" rx="5.6" ry="4.2" transform="translate(60.40 58.20) rotate(30)" fill="#0f0" fill-opacity="0.220"/><ellipse cx="0" cy="0" rx="4.2" ry="2.7" transform="translate(60.40 58.20) rotate(30)" fill="#0f0" fill-opacity="0.320"/><circle cx="58.50" cy="56.90" r="1.7" fill="#0f0" fill-opacity="0.360"/><circle cx="61.30" cy="59.10" r="1.4" fill="#0f0" fill-opacity="0.220"/></g><rect x="0.5" y="0.5" width="125.4" height="118.4" fill="none" stroke="#262626" stroke-opacity="0.38" stroke-width="1"/><path d="M24.44 0v1.6M24.44 119.4v-1.6M0 23.09h1.6M126.4 23.09h-1.6M49.13 0v1.6M49.13 119.4v-1.6M0 46.41h1.6M126.4 46.41h-1.6M73.82 0v1.6M73.82 119.4v-1.6M0 69.73h1.6M126.4 69.73h-1.6M98.50 0v1.6M98.50 119.4v-1.6M0 93.05h1.6M126.4 93.05h-1.6M123.19 0v1.6M123.19 119.4v-1.6M0 116.37h1.6M126.4 116.37h-1.6" stroke="#262626" stroke-opacity="0.55" stroke-width="0.6" fill="none"/></g></g></svg>
<div class="t ti sx" style="left:312.6px;top:175.8px">F=475 mm</div>
<div class="t lb sx" style="left:312.2px;top:321.0px">Each pixel/ 26µm</div>
<div class="t lb yl" style="left:225.8px;top:244.9px">Each pixel/ 26µm</div>
<div class="t tk cx" style="left:273.4px;top:309.0px">50</div><div class="t tk rcy" style="left:245.6px;top:208.4px">50</div><div class="t tk cx" style="left:298.1px;top:309.0px">100</div><div class="t tk rcy" style="left:245.6px;top:231.7px">100</div><div class="t tk cx" style="left:322.8px;top:309.0px">150</div><div class="t tk rcy" style="left:245.6px;top:255.0px">150</div><div class="t tk cx" style="left:347.5px;top:309.0px">200</div><div class="t tk rcy" style="left:245.6px;top:278.3px">200</div><div class="t tk cx" style="left:372.2px;top:309.0px">250</div><div class="t tk rcy" style="left:245.6px;top:301.7px">250</div>
<div class="cb" style="left:386.2px;top:185.0px;width:12.9px;height:119.4px"></div>
<div class="tm" style="left:397.5px;top:304.15px;width:1.2px;height:0.6px"></div><div class="t ck cy" style="left:402.4px;top:304.7px">0</div><div class="tm" style="left:397.5px;top:287.47px;width:1.2px;height:0.6px"></div><div class="t ck cy" style="left:402.4px;top:288.0px">0.5</div><div class="tm" style="left:397.5px;top:270.80px;width:1.2px;height:0.6px"></div><div class="t ck cy" style="left:402.4px;top:271.3px">1</div><div class="tm" style="left:397.5px;top:254.12px;width:1.2px;height:0.6px"></div><div class="t ck cy" style="left:402.4px;top:254.7px">1.5</div><div class="tm" style="left:397.5px;top:237.45px;width:1.2px;height:0.6px"></div><div class="t ck cy" style="left:402.4px;top:238.0px">2</div><div class="tm" style="left:397.5px;top:220.77px;width:1.2px;height:0.6px"></div><div class="t ck cy" style="left:402.4px;top:221.3px">2.5</div><div class="tm" style="left:397.5px;top:204.09px;width:1.2px;height:0.6px"></div><div class="t ck cy" style="left:402.4px;top:204.6px">3</div><div class="tm" style="left:397.5px;top:187.42px;width:1.2px;height:0.6px"></div><div class="t ck cy" style="left:402.4px;top:188.0px">3.5</div>
<div class="t cn sx" style="left:391.2px;top:166.8px">Counts</div>
<div class="t ck" style="left:399.7px;top:174.7px;color:#262626">×10<sup>4</sup></div>
<svg class="hm" style="left:469px;top:185px" width="130" height="122" viewBox="0 0 130 122"><defs><filter id="f5" x="-6" y="-6" width="138.4" height="131.4" filterUnits="userSpaceOnUse" color-interpolation-filters="sRGB"><feGaussianBlur in="SourceGraphic" stdDeviation="0.8" result="e"/><feColorMatrix in="e" type="matrix" values="1 0 0 0 0 1 0 0 0 0 1 0 0 0 0 0 0 0 0 1" result="eb"/><feColorMatrix in="e" type="matrix" values="0 1 0 0 0 0 1 0 0 0 0 1 0 0 0 0 0 0 0 1" result="ec"/><feTurbulence type="fractalNoise" baseFrequency="0.5" numOctaves="2" seed="19" result="t"/><feColorMatrix in="t" type="matrix" values="1 0 0 0 0 1 0 0 0 0 1 0 0 0 0 0 0 0 0 1" result="n"/><feComponentTransfer in="n" result="n2"><feFuncR type="table" tableValues="0 0 0.02 0.12 0.33 0.62 0.9 1 1"/><feFuncG type="table" tableValues="0 0 0.02 0.12 0.33 0.62 0.9 1 1"/><feFuncB type="table" tableValues="0 0 0.02 0.12 0.33 0.62 0.9 1 1"/></feComponentTransfer><feComposite in="eb" in2="n2" operator="arithmetic" k1="1.3" k2="0.53" k3="0" k4="0" result="m1"/><feComposite in="ec" in2="n2" operator="arithmetic" k1="0.3" k2="0.9" k3="0" k4="0" result="m2"/><feComposite in="m1" in2="m2" operator="arithmetic" k1="0" k2="1" k3="1" k4="0" result="m"/><feComponentTransfer in="m"><feFuncR type="table" tableValues="0 0 0 0 0.5 1 1 1 0.5"/><feFuncG type="table" tableValues="0 0 0.5 1 1 1 0.5 0 0"/><feFuncB type="table" tableValues="0.515 1 1 1 0.5 0 0 0 0"/></feComponentTransfer></filter><linearGradient id="v5" gradientUnits="userSpaceOnUse" x1="0" x2="0" y1="-30.80" y2="139.20"><stop offset="0.000" stop-color="#f00" stop-opacity="0.0105"/><stop offset="0.225" stop-color="#f00" stop-opacity="0.0270"/><stop offset="0.350" stop-color="#f00" stop-opacity="0.0540"/><stop offset="0.425" stop-color="#f00" stop-opacity="0.0900"/><stop offset="0.470" stop-color="#f00" stop-opacity="0.1425"/><stop offset="0.500" stop-color="#f00" stop-opacity="0.1500"/><stop offset="0.530" stop-color="#f00" stop-opacity="0.1425"/><stop offset="0.575" stop-color="#f00" stop-opacity="0.0900"/><stop offset="0.650" stop-color="#f00" stop-opacity="0.0540"/><stop offset="0.775" stop-color="#f00" stop-opacity="0.0270"/><stop offset="1.000" stop-color="#f00" stop-opacity="0.0105"/></linearGradient><linearGradient id="h5" gradientUnits="userSpaceOnUse" y1="0" y2="0" x1="-25.60" x2="144.40"><stop offset="0.000" stop-color="#f00" stop-opacity="0.0084"/><stop offset="0.225" stop-color="#f00" stop-opacity="0.0216"/><stop offset="0.350" stop-color="#f00" stop-opacity="0.0432"/><stop offset="0.425" stop-color="#f00" stop-opacity="0.0720"/><stop offset="0.470" stop-color="#f00" stop-opacity="0.1140"/><stop offset="0.500" stop-color="#f00" stop-opacity="0.1200"/><stop offset="0.530" stop-color="#f00" stop-opacity="0.1140"/><stop offset="0.575" stop-color="#f00" stop-opacity="0.0720"/><stop offset="0.650" stop-color="#f00" stop-opacity="0.0432"/><stop offset="0.775" stop-color="#f00" stop-opacity="0.0216"/><stop offset="1.000" stop-color="#f00" stop-opacity="0.0084"/></linearGradient><linearGradient id="vw5" gradientUnits="userSpaceOnUse" x1="0" x2="0" y1="-30.80" y2="139.20"><stop offset="0.000" stop-color="#f00" stop-opacity="0.0035"/><stop offset="0.225" stop-color="#f00" stop-opacity="0.0090"/><stop offset="0.350" stop-color="#f00" stop-opacity="0.0180"/><stop offset="0.425" stop-color="#f00" stop-opacity="0.0300"/><stop offset="0.470" stop-color="#f00" stop-opacity="0.0475"/><stop offset="0.500" stop-color="#f00" stop-opacity="0.0500"/><stop offset="0.530" stop-color="#f00" stop-opacity="0.0475"/><stop offset="0.575" stop-color="#f00" stop-opacity="0.0300"/><stop offset="0.650" stop-color="#f00" stop-opacity="0.0180"/><stop offset="0.775" stop-color="#f00" stop-opacity="0.0090"/><stop offset="1.000" stop-color="#f00" stop-opacity="0.0035"/></linearGradient><linearGradient id="hw5" gradientUnits="userSpaceOnUse" y1="0" y2="0" x1="-25.60" x2="144.40"><stop offset="0.000" stop-color="#f00" stop-opacity="0.0042"/><stop offset="0.225" stop-color="#f00" stop-opacity="0.0108"/><stop offset="0.350" stop-color="#f00" stop-opacity="0.0216"/><stop offset="0.425" stop-color="#f00" stop-opacity="0.0360"/><stop offset="0.470" stop-color="#f00" stop-opacity="0.0570"/><stop offset="0.500" stop-color="#f00" stop-opacity="0.0600"/><stop offset="0.530" stop-color="#f00" stop-opacity="0.0570"/><stop offset="0.575" stop-color="#f00" stop-opacity="0.0360"/><stop offset="0.650" stop-color="#f00" stop-opacity="0.0216"/><stop offset="0.775" stop-color="#f00" stop-opacity="0.0108"/><stop offset="1.000" stop-color="#f00" stop-opacity="0.0042"/></linearGradient><radialGradient id="o5" cx="59.40" cy="54.20" r="60" gradientUnits="userSpaceOnUse"><stop offset="0" stop-color="#f00" stop-opacity="0.075"/><stop offset="0.2" stop-color="#f00" stop-opacity="0.052"/><stop offset="0.5" stop-color="#f00" stop-opacity="0.022"/><stop offset="1" stop-color="#f00" stop-opacity="0"/></radialGradient><clipPath id="c5"><rect x="0" y="0" width="126.4" height="119.4"/></clipPath></defs><g transform="translate(0.50 0.00)"><g clip-path="url(#c5)"><rect width="126.4" height="119.4" fill="#00008a"/><g filter="url(#f5)"><rect x="-8" y="-8" width="142.4" height="135.4" fill="rgb(2,0,0)"/><rect x="-8" y="-8" width="142.4" height="135.4" fill="url(#o5)"/><rect x="52.90" y="-8" width="13" height="135.4" fill="url(#vw5)"/><rect y="47.70" x="-8" height="13" width="142.4" fill="url(#hw5)"/><rect x="55.00" y="-8" width="2.2" height="135.4" fill="url(#v5)"/><rect x="61.70" y="-8" width="2.2" height="135.4" fill="url(#v5)"/><rect y="49.70" x="-8" height="2.2" width="142.4" fill="url(#h5)"/><rect y="56.70" x="-8" height="2.2" width="142.4" fill="url(#h5)"/><ellipse cx="0" cy="0" rx="7.4" ry="6.2" transform="translate(59.40 54.20) rotate(30)" fill="#0f0" fill-opacity="0.140"/><ellipse cx="0" cy="0" rx="6.7" ry="5.3" transform="translate(59.40 54.20) rotate(30)" fill="#0f0" fill-opacity="0.310"/><ellipse cx="0" cy="0" rx="4.6" ry="3.4" transform="translate(59.40 54.20) rotate(30)" fill="#0f0" fill-opacity="0.100"/><circle cx="56.60" cy="52.20" r="1.5" fill="#0f0" fill-opacity="0.220"/><circle cx="58.20" cy="56.40" r="1.5" fill="#0f0" fill-opacity="0.260"/><circle cx="61.80" cy="56.00" r="1.4" fill="#0f0" fill-opacity="0.200"/><circle cx="60.60" cy="52.40" r="1.3" fill="#0f0" fill-opacity="0.140"/></g><rect x="0.5" y="0.5" width="125.4" height="118.4" fill="none" stroke="#262626" stroke-opacity="0.38" stroke-width="1"/><path d="M24.44 0v1.6M24.44 119.4v-1.6M0 23.09h1.6M126.4 23.09h-1.6M49.13 0v1.6M49.13 119.4v-1.6M0 46.41h1.6M126.4 46.41h-1.6M73.82 0v1.6M73.82 119.4v-1.6M0 69.73h1.6M126.4 69.73h-1.6M98.50 0v1.6M98.50 119.4v-1.6M0 93.05h1.6M126.4 93.05h-1.6M123.19 0v1.6M123.19 119.4v-1.6M0 116.37h1.6M126.4 116.37h-1.6" stroke="#262626" stroke-opacity="0.55" stroke-width="0.6" fill="none"/></g></g></svg>
<div class="t ti sx" style="left:533.1px;top:175.8px">F=495 mm</div>
<div class="t lb sx" style="left:532.7px;top:321.0px">Each pixel/ 26µm</div>
<div class="t lb yl" style="left:446.3px;top:244.9px">Each pixel/ 26µm</div>
<div class="t tk cx" style="left:493.9px;top:309.0px">50</div><div class="t tk rcy" style="left:466.1px;top:208.4px">50</div><div class="t tk cx" style="left:518.6px;top:309.0px">100</div><div class="t tk rcy" style="left:466.1px;top:231.7px">100</div><div class="t tk cx" style="left:543.3px;top:309.0px">150</div><div class="t tk rcy" style="left:466.1px;top:255.0px">150</div><div class="t tk cx" style="left:568.0px;top:309.0px">200</div><div class="t tk rcy" style="left:466.1px;top:278.3px">200</div><div class="t tk cx" style="left:592.7px;top:309.0px">250</div><div class="t tk rcy" style="left:466.1px;top:301.7px">250</div>
<div class="cb" style="left:606.7px;top:185.0px;width:12.9px;height:119.4px"></div>
<div class="tm" style="left:618.0px;top:304.15px;width:1.2px;height:0.6px"></div><div class="t ck cy" style="left:622.9px;top:304.7px">0</div><div class="tm" style="left:618.0px;top:279.27px;width:1.2px;height:0.6px"></div><div class="t ck cy" style="left:622.9px;top:279.8px">0.5</div><div class="tm" style="left:618.0px;top:254.40px;width:1.2px;height:0.6px"></div><div class="t ck cy" style="left:622.9px;top:254.9px">1</div><div class="tm" style="left:618.0px;top:229.52px;width:1.2px;height:0.6px"></div><div class="t ck cy" style="left:622.9px;top:230.1px">1.5</div><div class="tm" style="left:618.0px;top:204.65px;width:1.2px;height:0.6px"></div><div class="t ck cy" style="left:622.9px;top:205.2px">2</div>
<div class="t cn sx" style="left:610.1px;top:168.9px">Counts</div>
<div class="t ck" style="left:620.2px;top:174.7px;color:#262626">×10<sup>4</sup></div>
</body></html>
